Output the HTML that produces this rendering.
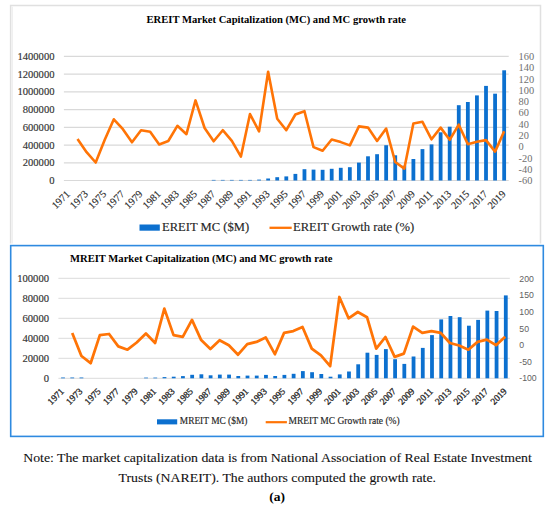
<!DOCTYPE html>
<html><head><meta charset="utf-8"><style>
html,body{margin:0;padding:0;background:#fff;width:550px;height:512px;overflow:hidden}
svg{display:block}
</style></head><body>
<svg width="550" height="512" viewBox="0 0 550 512">
<rect width="550" height="512" fill="#fff"/>
<path d="M10.6,243.5 V5.6 H540.5 V243.5" fill="none" stroke="#e0e0e0" stroke-width="1.5"/>
<line x1="12.2" y1="6.4" x2="12.2" y2="243.5" stroke="#f0f0f0" stroke-width="1.5"/>
<rect x="10.7" y="245.6" width="532.6" height="190.8" fill="none" stroke="#2e8ae0" stroke-width="1.6"/>
<text x="146.5" y="22.7" style="font:bold 10.6px 'Liberation Serif'" fill="#000">EREIT Market Capitalization (MC) and MC growth rate</text>
<text x="70" y="261.5" style="font:bold 10.6px 'Liberation Serif'" fill="#000">MREIT Market Capitalization (MC) and MC growth rate</text>
<line x1="63.90" y1="56.40" x2="508.70" y2="56.40" stroke="#d9d9d9" stroke-width="1.2"/>
<line x1="63.90" y1="74.13" x2="508.70" y2="74.13" stroke="#d9d9d9" stroke-width="1.2"/>
<line x1="63.90" y1="91.86" x2="508.70" y2="91.86" stroke="#d9d9d9" stroke-width="1.2"/>
<line x1="63.90" y1="109.59" x2="508.70" y2="109.59" stroke="#d9d9d9" stroke-width="1.2"/>
<line x1="63.90" y1="127.32" x2="508.70" y2="127.32" stroke="#d9d9d9" stroke-width="1.2"/>
<line x1="63.90" y1="145.05" x2="508.70" y2="145.05" stroke="#d9d9d9" stroke-width="1.2"/>
<line x1="63.90" y1="162.78" x2="508.70" y2="162.78" stroke="#d9d9d9" stroke-width="1.2"/>
<line x1="63.90" y1="180.51" x2="508.70" y2="180.51" stroke="#d9d9d9" stroke-width="1.2"/>
<rect x="211.78" y="179.90" width="3.80" height="0.60" fill="#0c70cf"/>
<rect x="220.86" y="179.90" width="3.80" height="0.60" fill="#0c70cf"/>
<rect x="229.93" y="179.90" width="3.80" height="0.60" fill="#0c70cf"/>
<rect x="239.01" y="179.90" width="3.80" height="0.60" fill="#0c70cf"/>
<rect x="248.09" y="179.90" width="3.80" height="0.60" fill="#0c70cf"/>
<rect x="257.17" y="179.60" width="3.80" height="0.90" fill="#0c70cf"/>
<rect x="266.24" y="178.50" width="3.80" height="2.00" fill="#0c70cf"/>
<rect x="275.32" y="177.20" width="3.80" height="3.30" fill="#0c70cf"/>
<rect x="284.40" y="176.40" width="3.80" height="4.10" fill="#0c70cf"/>
<rect x="293.48" y="173.90" width="3.80" height="6.60" fill="#0c70cf"/>
<rect x="302.56" y="169.20" width="3.80" height="11.30" fill="#0c70cf"/>
<rect x="311.63" y="169.60" width="3.80" height="10.90" fill="#0c70cf"/>
<rect x="320.71" y="169.80" width="3.80" height="10.70" fill="#0c70cf"/>
<rect x="329.79" y="168.80" width="3.80" height="11.70" fill="#0c70cf"/>
<rect x="338.87" y="167.80" width="3.80" height="12.70" fill="#0c70cf"/>
<rect x="347.94" y="167.20" width="3.80" height="13.30" fill="#0c70cf"/>
<rect x="357.02" y="162.60" width="3.80" height="17.90" fill="#0c70cf"/>
<rect x="366.10" y="156.30" width="3.80" height="24.20" fill="#0c70cf"/>
<rect x="375.18" y="154.20" width="3.80" height="26.30" fill="#0c70cf"/>
<rect x="384.25" y="145.20" width="3.80" height="35.30" fill="#0c70cf"/>
<rect x="393.33" y="155.30" width="3.80" height="25.20" fill="#0c70cf"/>
<rect x="402.41" y="165.70" width="3.80" height="14.80" fill="#0c70cf"/>
<rect x="411.49" y="159.00" width="3.80" height="21.50" fill="#0c70cf"/>
<rect x="420.56" y="149.10" width="3.80" height="31.40" fill="#0c70cf"/>
<rect x="429.64" y="144.40" width="3.80" height="36.10" fill="#0c70cf"/>
<rect x="438.72" y="132.30" width="3.80" height="48.20" fill="#0c70cf"/>
<rect x="447.80" y="126.70" width="3.80" height="53.80" fill="#0c70cf"/>
<rect x="456.87" y="105.20" width="3.80" height="75.30" fill="#0c70cf"/>
<rect x="465.95" y="102.00" width="3.80" height="78.50" fill="#0c70cf"/>
<rect x="475.03" y="95.40" width="3.80" height="85.10" fill="#0c70cf"/>
<rect x="484.11" y="85.90" width="3.80" height="94.60" fill="#0c70cf"/>
<rect x="493.18" y="93.70" width="3.80" height="86.80" fill="#0c70cf"/>
<rect x="502.26" y="70.30" width="3.80" height="110.20" fill="#0c70cf"/>
<polyline points="77.52,139.00 86.59,152.20 95.67,162.50 104.75,139.70 113.83,119.30 122.90,129.20 131.98,142.30 141.06,130.30 150.14,131.70 159.21,144.50 168.29,141.00 177.37,125.80 186.45,134.20 195.52,100.40 204.60,128.00 213.68,141.30 222.76,130.20 231.83,140.90 240.91,156.60 249.99,114.10 259.07,131.30 268.14,71.80 277.22,118.80 286.30,130.20 295.38,114.50 304.46,111.20 313.53,147.10 322.61,150.80 331.69,139.50 340.77,142.10 349.84,145.40 358.92,126.40 368.00,127.60 377.08,140.90 386.15,128.60 395.23,162.00 404.31,168.60 413.39,123.50 422.46,121.80 431.54,139.30 440.62,127.60 449.70,139.80 458.77,124.70 467.85,144.20 476.93,141.80 486.01,140.10 495.08,151.60 504.16,131.30" fill="none" stroke="#ff7406" stroke-width="2.6" stroke-linejoin="round" stroke-linecap="butt"/>
<text x="70.64" y="194.70" transform="rotate(-45 70.64 194.70)" text-anchor="end" style="font:10.4px 'Liberation Serif'" fill="#2a2a2a" stroke="#2a2a2a" stroke-width="0.15">1971</text>
<text x="88.79" y="194.70" transform="rotate(-45 88.79 194.70)" text-anchor="end" style="font:10.4px 'Liberation Serif'" fill="#2a2a2a" stroke="#2a2a2a" stroke-width="0.15">1973</text>
<text x="106.95" y="194.70" transform="rotate(-45 106.95 194.70)" text-anchor="end" style="font:10.4px 'Liberation Serif'" fill="#2a2a2a" stroke="#2a2a2a" stroke-width="0.15">1975</text>
<text x="125.10" y="194.70" transform="rotate(-45 125.10 194.70)" text-anchor="end" style="font:10.4px 'Liberation Serif'" fill="#2a2a2a" stroke="#2a2a2a" stroke-width="0.15">1977</text>
<text x="143.26" y="194.70" transform="rotate(-45 143.26 194.70)" text-anchor="end" style="font:10.4px 'Liberation Serif'" fill="#2a2a2a" stroke="#2a2a2a" stroke-width="0.15">1979</text>
<text x="161.41" y="194.70" transform="rotate(-45 161.41 194.70)" text-anchor="end" style="font:10.4px 'Liberation Serif'" fill="#2a2a2a" stroke="#2a2a2a" stroke-width="0.15">1981</text>
<text x="179.57" y="194.70" transform="rotate(-45 179.57 194.70)" text-anchor="end" style="font:10.4px 'Liberation Serif'" fill="#2a2a2a" stroke="#2a2a2a" stroke-width="0.15">1983</text>
<text x="197.72" y="194.70" transform="rotate(-45 197.72 194.70)" text-anchor="end" style="font:10.4px 'Liberation Serif'" fill="#2a2a2a" stroke="#2a2a2a" stroke-width="0.15">1985</text>
<text x="215.88" y="194.70" transform="rotate(-45 215.88 194.70)" text-anchor="end" style="font:10.4px 'Liberation Serif'" fill="#2a2a2a" stroke="#2a2a2a" stroke-width="0.15">1987</text>
<text x="234.03" y="194.70" transform="rotate(-45 234.03 194.70)" text-anchor="end" style="font:10.4px 'Liberation Serif'" fill="#2a2a2a" stroke="#2a2a2a" stroke-width="0.15">1989</text>
<text x="252.19" y="194.70" transform="rotate(-45 252.19 194.70)" text-anchor="end" style="font:10.4px 'Liberation Serif'" fill="#2a2a2a" stroke="#2a2a2a" stroke-width="0.15">1991</text>
<text x="270.34" y="194.70" transform="rotate(-45 270.34 194.70)" text-anchor="end" style="font:10.4px 'Liberation Serif'" fill="#2a2a2a" stroke="#2a2a2a" stroke-width="0.15">1993</text>
<text x="288.50" y="194.70" transform="rotate(-45 288.50 194.70)" text-anchor="end" style="font:10.4px 'Liberation Serif'" fill="#2a2a2a" stroke="#2a2a2a" stroke-width="0.15">1995</text>
<text x="306.66" y="194.70" transform="rotate(-45 306.66 194.70)" text-anchor="end" style="font:10.4px 'Liberation Serif'" fill="#2a2a2a" stroke="#2a2a2a" stroke-width="0.15">1997</text>
<text x="324.81" y="194.70" transform="rotate(-45 324.81 194.70)" text-anchor="end" style="font:10.4px 'Liberation Serif'" fill="#2a2a2a" stroke="#2a2a2a" stroke-width="0.15">1999</text>
<text x="342.97" y="194.70" transform="rotate(-45 342.97 194.70)" text-anchor="end" style="font:10.4px 'Liberation Serif'" fill="#2a2a2a" stroke="#2a2a2a" stroke-width="0.15">2001</text>
<text x="361.12" y="194.70" transform="rotate(-45 361.12 194.70)" text-anchor="end" style="font:10.4px 'Liberation Serif'" fill="#2a2a2a" stroke="#2a2a2a" stroke-width="0.15">2003</text>
<text x="379.28" y="194.70" transform="rotate(-45 379.28 194.70)" text-anchor="end" style="font:10.4px 'Liberation Serif'" fill="#2a2a2a" stroke="#2a2a2a" stroke-width="0.15">2005</text>
<text x="397.43" y="194.70" transform="rotate(-45 397.43 194.70)" text-anchor="end" style="font:10.4px 'Liberation Serif'" fill="#2a2a2a" stroke="#2a2a2a" stroke-width="0.15">2007</text>
<text x="415.59" y="194.70" transform="rotate(-45 415.59 194.70)" text-anchor="end" style="font:10.4px 'Liberation Serif'" fill="#2a2a2a" stroke="#2a2a2a" stroke-width="0.15">2009</text>
<text x="433.74" y="194.70" transform="rotate(-45 433.74 194.70)" text-anchor="end" style="font:10.4px 'Liberation Serif'" fill="#2a2a2a" stroke="#2a2a2a" stroke-width="0.15">2011</text>
<text x="451.90" y="194.70" transform="rotate(-45 451.90 194.70)" text-anchor="end" style="font:10.4px 'Liberation Serif'" fill="#2a2a2a" stroke="#2a2a2a" stroke-width="0.15">2013</text>
<text x="470.05" y="194.70" transform="rotate(-45 470.05 194.70)" text-anchor="end" style="font:10.4px 'Liberation Serif'" fill="#2a2a2a" stroke="#2a2a2a" stroke-width="0.15">2015</text>
<text x="488.21" y="194.70" transform="rotate(-45 488.21 194.70)" text-anchor="end" style="font:10.4px 'Liberation Serif'" fill="#2a2a2a" stroke="#2a2a2a" stroke-width="0.15">2017</text>
<text x="506.36" y="194.70" transform="rotate(-45 506.36 194.70)" text-anchor="end" style="font:10.4px 'Liberation Serif'" fill="#2a2a2a" stroke="#2a2a2a" stroke-width="0.15">2019</text>
<text x="54.5" y="59.90" text-anchor="end" style="font:10.6px 'Liberation Serif'" fill="#333" stroke="#333" stroke-width="0.15">1400000</text>
<text x="54.5" y="77.63" text-anchor="end" style="font:10.6px 'Liberation Serif'" fill="#333" stroke="#333" stroke-width="0.15">1200000</text>
<text x="54.5" y="95.36" text-anchor="end" style="font:10.6px 'Liberation Serif'" fill="#333" stroke="#333" stroke-width="0.15">1000000</text>
<text x="54.5" y="113.09" text-anchor="end" style="font:10.6px 'Liberation Serif'" fill="#333" stroke="#333" stroke-width="0.15">800000</text>
<text x="54.5" y="130.82" text-anchor="end" style="font:10.6px 'Liberation Serif'" fill="#333" stroke="#333" stroke-width="0.15">600000</text>
<text x="54.5" y="148.55" text-anchor="end" style="font:10.6px 'Liberation Serif'" fill="#333" stroke="#333" stroke-width="0.15">400000</text>
<text x="54.5" y="166.28" text-anchor="end" style="font:10.6px 'Liberation Serif'" fill="#333" stroke="#333" stroke-width="0.15">200000</text>
<text x="54.5" y="184.01" text-anchor="end" style="font:10.6px 'Liberation Serif'" fill="#333" stroke="#333" stroke-width="0.15">0</text>
<text x="518.5" y="60.00" style="font:10.4px 'Liberation Serif'" fill="#6f6f6f">160</text>
<text x="518.5" y="71.28" style="font:10.4px 'Liberation Serif'" fill="#6f6f6f">140</text>
<text x="518.5" y="82.56" style="font:10.4px 'Liberation Serif'" fill="#6f6f6f">120</text>
<text x="518.5" y="93.84" style="font:10.4px 'Liberation Serif'" fill="#6f6f6f">100</text>
<text x="518.5" y="105.12" style="font:10.4px 'Liberation Serif'" fill="#6f6f6f">80</text>
<text x="518.5" y="116.40" style="font:10.4px 'Liberation Serif'" fill="#6f6f6f">60</text>
<text x="518.5" y="127.68" style="font:10.4px 'Liberation Serif'" fill="#6f6f6f">40</text>
<text x="518.5" y="138.96" style="font:10.4px 'Liberation Serif'" fill="#6f6f6f">20</text>
<text x="518.5" y="150.24" style="font:10.4px 'Liberation Serif'" fill="#6f6f6f">0</text>
<text x="518.5" y="161.52" style="font:10.4px 'Liberation Serif'" fill="#6f6f6f">-20</text>
<text x="518.5" y="172.80" style="font:10.4px 'Liberation Serif'" fill="#6f6f6f">-40</text>
<text x="518.5" y="184.08" style="font:10.4px 'Liberation Serif'" fill="#6f6f6f">-60</text>
<rect x="139.5" y="224.5" width="20.3" height="6.2" fill="#0c70cf"/>
<text x="162" y="231" style="font:12.6px 'Liberation Serif'" fill="#262626" stroke="#262626" stroke-width="0.15">EREIT MC ($M)</text>
<line x1="269.5" y1="227.8" x2="291.7" y2="227.8" stroke="#ff7406" stroke-width="2.3"/>
<text x="293" y="231" style="font:12.6px 'Liberation Serif'" fill="#262626" stroke="#262626" stroke-width="0.15">EREIT Growth rate (%)</text>
<line x1="58.40" y1="278.30" x2="509.80" y2="278.30" stroke="#e2e2e2" stroke-width="1.2"/>
<line x1="58.40" y1="298.30" x2="509.80" y2="298.30" stroke="#e2e2e2" stroke-width="1.2"/>
<line x1="58.40" y1="318.30" x2="509.80" y2="318.30" stroke="#e2e2e2" stroke-width="1.2"/>
<line x1="58.40" y1="338.30" x2="509.80" y2="338.30" stroke="#e2e2e2" stroke-width="1.2"/>
<line x1="58.40" y1="358.30" x2="509.80" y2="358.30" stroke="#e2e2e2" stroke-width="1.2"/>
<line x1="58.40" y1="378.30" x2="509.80" y2="378.30" stroke="#e2e2e2" stroke-width="1.2"/>
<rect x="61.11" y="377.50" width="3.80" height="0.80" fill="#0c70cf"/>
<rect x="70.34" y="377.50" width="3.80" height="0.80" fill="#0c70cf"/>
<rect x="79.56" y="377.50" width="3.80" height="0.80" fill="#0c70cf"/>
<rect x="144.13" y="377.60" width="3.80" height="0.70" fill="#0c70cf"/>
<rect x="153.36" y="377.60" width="3.80" height="0.70" fill="#0c70cf"/>
<rect x="162.58" y="377.10" width="3.80" height="1.20" fill="#0c70cf"/>
<rect x="171.81" y="376.70" width="3.80" height="1.60" fill="#0c70cf"/>
<rect x="181.03" y="376.10" width="3.80" height="2.20" fill="#0c70cf"/>
<rect x="190.26" y="374.80" width="3.80" height="3.50" fill="#0c70cf"/>
<rect x="199.48" y="374.30" width="3.80" height="4.00" fill="#0c70cf"/>
<rect x="208.70" y="375.30" width="3.80" height="3.00" fill="#0c70cf"/>
<rect x="217.93" y="374.60" width="3.80" height="3.70" fill="#0c70cf"/>
<rect x="227.15" y="374.60" width="3.80" height="3.70" fill="#0c70cf"/>
<rect x="236.38" y="376.00" width="3.80" height="2.30" fill="#0c70cf"/>
<rect x="245.60" y="375.60" width="3.80" height="2.70" fill="#0c70cf"/>
<rect x="254.83" y="375.60" width="3.80" height="2.70" fill="#0c70cf"/>
<rect x="264.05" y="374.90" width="3.80" height="3.40" fill="#0c70cf"/>
<rect x="273.28" y="376.00" width="3.80" height="2.30" fill="#0c70cf"/>
<rect x="282.50" y="374.90" width="3.80" height="3.40" fill="#0c70cf"/>
<rect x="291.72" y="373.80" width="3.80" height="4.50" fill="#0c70cf"/>
<rect x="300.95" y="371.10" width="3.80" height="7.20" fill="#0c70cf"/>
<rect x="310.17" y="372.20" width="3.80" height="6.10" fill="#0c70cf"/>
<rect x="319.40" y="374.00" width="3.80" height="4.30" fill="#0c70cf"/>
<rect x="328.62" y="376.70" width="3.80" height="1.60" fill="#0c70cf"/>
<rect x="337.85" y="374.40" width="3.80" height="3.90" fill="#0c70cf"/>
<rect x="347.07" y="371.50" width="3.80" height="6.80" fill="#0c70cf"/>
<rect x="356.30" y="364.30" width="3.80" height="14.00" fill="#0c70cf"/>
<rect x="365.52" y="352.70" width="3.80" height="25.60" fill="#0c70cf"/>
<rect x="374.74" y="354.90" width="3.80" height="23.40" fill="#0c70cf"/>
<rect x="383.97" y="349.10" width="3.80" height="29.20" fill="#0c70cf"/>
<rect x="393.19" y="359.20" width="3.80" height="19.10" fill="#0c70cf"/>
<rect x="402.42" y="363.90" width="3.80" height="14.40" fill="#0c70cf"/>
<rect x="411.64" y="356.50" width="3.80" height="21.80" fill="#0c70cf"/>
<rect x="420.87" y="347.90" width="3.80" height="30.40" fill="#0c70cf"/>
<rect x="430.09" y="335.10" width="3.80" height="43.20" fill="#0c70cf"/>
<rect x="439.32" y="319.40" width="3.80" height="58.90" fill="#0c70cf"/>
<rect x="448.54" y="316.00" width="3.80" height="62.30" fill="#0c70cf"/>
<rect x="457.77" y="317.20" width="3.80" height="61.10" fill="#0c70cf"/>
<rect x="466.99" y="325.70" width="3.80" height="52.60" fill="#0c70cf"/>
<rect x="476.21" y="319.90" width="3.80" height="58.40" fill="#0c70cf"/>
<rect x="485.44" y="310.60" width="3.80" height="67.70" fill="#0c70cf"/>
<rect x="494.66" y="311.00" width="3.80" height="67.30" fill="#0c70cf"/>
<rect x="503.89" y="295.40" width="3.80" height="82.90" fill="#0c70cf"/>
<polyline points="72.22,332.90 81.43,356.00 90.64,363.20 99.86,335.10 109.07,334.00 118.28,346.40 127.49,349.70 136.70,342.50 145.92,333.50 155.13,343.00 164.34,308.60 173.55,335.10 182.77,336.90 191.98,319.90 201.19,340.10 210.40,349.10 219.61,340.20 228.83,345.20 238.04,354.70 247.25,344.10 256.46,341.90 265.68,337.40 274.89,354.20 284.10,332.90 293.31,331.10 302.52,327.00 311.74,348.60 320.95,355.40 330.16,366.10 339.37,297.00 348.59,318.30 357.80,312.00 367.01,317.20 376.22,348.60 385.43,337.00 394.65,356.90 403.86,353.60 413.07,326.60 422.28,332.90 431.50,331.10 440.71,332.90 449.92,343.00 459.13,345.50 468.34,349.70 477.56,341.90 486.77,339.60 495.98,345.20 505.19,336.70" fill="none" stroke="#ff7406" stroke-width="2.75" stroke-linejoin="round" stroke-linecap="butt"/>
<text x="64.51" y="392.00" transform="rotate(-45 64.51 392.00)" text-anchor="end" style="font:9.3px 'Liberation Serif'" fill="#262626" stroke="#262626" stroke-width="0.3">1971</text>
<text x="82.96" y="392.00" transform="rotate(-45 82.96 392.00)" text-anchor="end" style="font:9.3px 'Liberation Serif'" fill="#262626" stroke="#262626" stroke-width="0.3">1973</text>
<text x="101.41" y="392.00" transform="rotate(-45 101.41 392.00)" text-anchor="end" style="font:9.3px 'Liberation Serif'" fill="#262626" stroke="#262626" stroke-width="0.3">1975</text>
<text x="119.86" y="392.00" transform="rotate(-45 119.86 392.00)" text-anchor="end" style="font:9.3px 'Liberation Serif'" fill="#262626" stroke="#262626" stroke-width="0.3">1977</text>
<text x="138.31" y="392.00" transform="rotate(-45 138.31 392.00)" text-anchor="end" style="font:9.3px 'Liberation Serif'" fill="#262626" stroke="#262626" stroke-width="0.3">1979</text>
<text x="156.76" y="392.00" transform="rotate(-45 156.76 392.00)" text-anchor="end" style="font:9.3px 'Liberation Serif'" fill="#262626" stroke="#262626" stroke-width="0.3">1981</text>
<text x="175.21" y="392.00" transform="rotate(-45 175.21 392.00)" text-anchor="end" style="font:9.3px 'Liberation Serif'" fill="#262626" stroke="#262626" stroke-width="0.3">1983</text>
<text x="193.66" y="392.00" transform="rotate(-45 193.66 392.00)" text-anchor="end" style="font:9.3px 'Liberation Serif'" fill="#262626" stroke="#262626" stroke-width="0.3">1985</text>
<text x="212.10" y="392.00" transform="rotate(-45 212.10 392.00)" text-anchor="end" style="font:9.3px 'Liberation Serif'" fill="#262626" stroke="#262626" stroke-width="0.3">1987</text>
<text x="230.55" y="392.00" transform="rotate(-45 230.55 392.00)" text-anchor="end" style="font:9.3px 'Liberation Serif'" fill="#262626" stroke="#262626" stroke-width="0.3">1989</text>
<text x="249.00" y="392.00" transform="rotate(-45 249.00 392.00)" text-anchor="end" style="font:9.3px 'Liberation Serif'" fill="#262626" stroke="#262626" stroke-width="0.3">1991</text>
<text x="267.45" y="392.00" transform="rotate(-45 267.45 392.00)" text-anchor="end" style="font:9.3px 'Liberation Serif'" fill="#262626" stroke="#262626" stroke-width="0.3">1993</text>
<text x="285.90" y="392.00" transform="rotate(-45 285.90 392.00)" text-anchor="end" style="font:9.3px 'Liberation Serif'" fill="#262626" stroke="#262626" stroke-width="0.3">1995</text>
<text x="304.35" y="392.00" transform="rotate(-45 304.35 392.00)" text-anchor="end" style="font:9.3px 'Liberation Serif'" fill="#262626" stroke="#262626" stroke-width="0.3">1997</text>
<text x="322.80" y="392.00" transform="rotate(-45 322.80 392.00)" text-anchor="end" style="font:9.3px 'Liberation Serif'" fill="#262626" stroke="#262626" stroke-width="0.3">1999</text>
<text x="341.25" y="392.00" transform="rotate(-45 341.25 392.00)" text-anchor="end" style="font:9.3px 'Liberation Serif'" fill="#262626" stroke="#262626" stroke-width="0.3">2001</text>
<text x="359.70" y="392.00" transform="rotate(-45 359.70 392.00)" text-anchor="end" style="font:9.3px 'Liberation Serif'" fill="#262626" stroke="#262626" stroke-width="0.3">2003</text>
<text x="378.14" y="392.00" transform="rotate(-45 378.14 392.00)" text-anchor="end" style="font:9.3px 'Liberation Serif'" fill="#262626" stroke="#262626" stroke-width="0.3">2005</text>
<text x="396.59" y="392.00" transform="rotate(-45 396.59 392.00)" text-anchor="end" style="font:9.3px 'Liberation Serif'" fill="#262626" stroke="#262626" stroke-width="0.3">2007</text>
<text x="415.04" y="392.00" transform="rotate(-45 415.04 392.00)" text-anchor="end" style="font:9.3px 'Liberation Serif'" fill="#262626" stroke="#262626" stroke-width="0.3">2009</text>
<text x="433.49" y="392.00" transform="rotate(-45 433.49 392.00)" text-anchor="end" style="font:9.3px 'Liberation Serif'" fill="#262626" stroke="#262626" stroke-width="0.3">2011</text>
<text x="451.94" y="392.00" transform="rotate(-45 451.94 392.00)" text-anchor="end" style="font:9.3px 'Liberation Serif'" fill="#262626" stroke="#262626" stroke-width="0.3">2013</text>
<text x="470.39" y="392.00" transform="rotate(-45 470.39 392.00)" text-anchor="end" style="font:9.3px 'Liberation Serif'" fill="#262626" stroke="#262626" stroke-width="0.3">2015</text>
<text x="488.84" y="392.00" transform="rotate(-45 488.84 392.00)" text-anchor="end" style="font:9.3px 'Liberation Serif'" fill="#262626" stroke="#262626" stroke-width="0.3">2017</text>
<text x="507.29" y="392.00" transform="rotate(-45 507.29 392.00)" text-anchor="end" style="font:9.3px 'Liberation Serif'" fill="#262626" stroke="#262626" stroke-width="0.3">2019</text>
<text x="49" y="281.80" text-anchor="end" style="font:10.6px 'Liberation Serif'" fill="#333" stroke="#333" stroke-width="0.15">100000</text>
<text x="49" y="301.80" text-anchor="end" style="font:10.6px 'Liberation Serif'" fill="#333" stroke="#333" stroke-width="0.15">80000</text>
<text x="49" y="321.80" text-anchor="end" style="font:10.6px 'Liberation Serif'" fill="#333" stroke="#333" stroke-width="0.15">60000</text>
<text x="49" y="341.80" text-anchor="end" style="font:10.6px 'Liberation Serif'" fill="#333" stroke="#333" stroke-width="0.15">40000</text>
<text x="49" y="361.80" text-anchor="end" style="font:10.6px 'Liberation Serif'" fill="#333" stroke="#333" stroke-width="0.15">20000</text>
<text x="49" y="381.80" text-anchor="end" style="font:10.6px 'Liberation Serif'" fill="#333" stroke="#333" stroke-width="0.15">0</text>
<text x="519.3" y="281.70" style="font:8.7px 'Liberation Sans'" fill="#5f5f5f">200</text>
<text x="519.3" y="298.33" style="font:8.7px 'Liberation Sans'" fill="#5f5f5f">150</text>
<text x="519.3" y="314.96" style="font:8.7px 'Liberation Sans'" fill="#5f5f5f">100</text>
<text x="519.3" y="331.59" style="font:8.7px 'Liberation Sans'" fill="#5f5f5f">50</text>
<text x="519.3" y="348.22" style="font:8.7px 'Liberation Sans'" fill="#5f5f5f">0</text>
<text x="519.3" y="364.85" style="font:8.7px 'Liberation Sans'" fill="#5f5f5f">-50</text>
<text x="519.3" y="381.48" style="font:8.7px 'Liberation Sans'" fill="#5f5f5f">-100</text>
<rect x="157" y="419.3" width="20.2" height="5.1" fill="#0c70cf"/>
<text x="179.8" y="424.4" style="font:9.4px 'Liberation Serif'" fill="#262626" stroke="#262626" stroke-width="0.15">MREIT MC ($M)</text>
<line x1="265.7" y1="422.2" x2="286.9" y2="422.2" stroke="#ff7406" stroke-width="2.2"/>
<text x="288.5" y="424.4" style="font:9.5px 'Liberation Serif'" fill="#262626" stroke="#262626" stroke-width="0.15">MREIT MC Growth rate (%)</text>
<text x="23.2" y="462.2" textLength="508.6" lengthAdjust="spacingAndGlyphs" style="font:13.2px 'Liberation Serif'" fill="#111" stroke="#111" stroke-width="0.1">Note: The market capitalization data is from National Association of Real Estate Investment</text>
<text x="118.6" y="482.0" textLength="317.4" lengthAdjust="spacingAndGlyphs" style="font:13.2px 'Liberation Serif'" fill="#111" stroke="#111" stroke-width="0.1">Trusts (NAREIT). The authors computed the growth rate.</text>
<text x="277.2" y="500.7" text-anchor="middle" style="font:bold 13.5px 'Liberation Serif'" fill="#000">(a)</text>
</svg>
</body></html>
